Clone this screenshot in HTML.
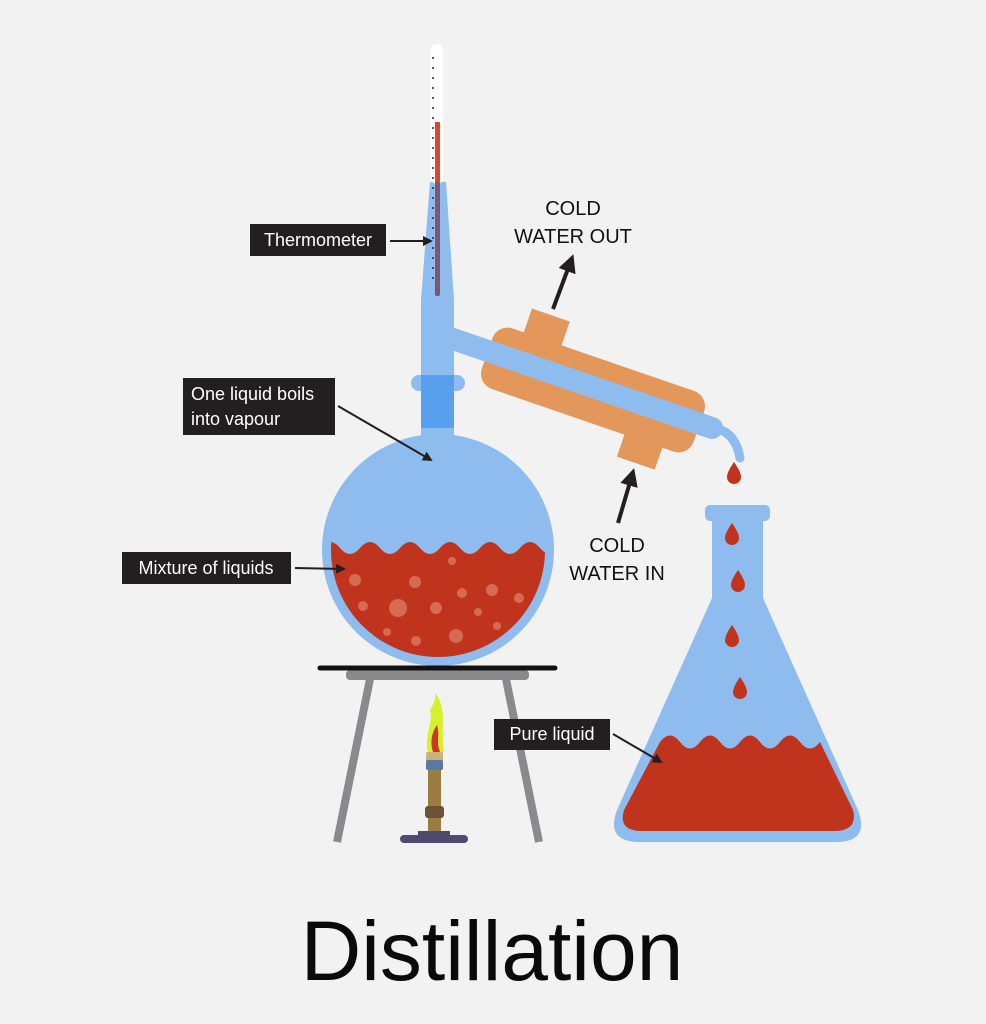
<!DOCTYPE html>
<html><head><meta charset="utf-8"><style>
html,body{margin:0;padding:0;background:#f2f2f2;}
svg{display:block}
text{font-family:"Liberation Sans",sans-serif}
</style></head><body>
<svg width="986" height="1024" viewBox="0 0 986 1024" xmlns="http://www.w3.org/2000/svg">
<defs>
<marker id="ah" markerWidth="10" markerHeight="10" refX="8" refY="5" orient="auto" markerUnits="userSpaceOnUse"><path d="M0,0 L10,5 L0,10 z" fill="#231f20"/></marker>
<marker id="ah2" markerWidth="18" markerHeight="18" refX="14" refY="9" orient="auto" markerUnits="userSpaceOnUse"><path d="M0,0 L18,9 L0,18 z" fill="#231f20"/></marker>
<clipPath id="fl"><circle cx="438" cy="550" r="107"/></clipPath>
</defs>
<rect width="986" height="1024" fill="#f2f2f2"/>

<!-- condenser -->
<g transform="translate(593,390) rotate(19)">
  <rect x="-112" y="-32" width="224" height="64" rx="16" fill="#e4975a"/>
</g>
<g transform="translate(545,332) rotate(19)"><rect x="-20" y="-18" width="40" height="32" fill="#e4975a"/></g>
<g transform="translate(641,448) rotate(19)"><rect x="-20" y="-14" width="40" height="30" fill="#e4975a"/></g>

<!-- side arm -->
<line x1="450" y1="338" x2="712" y2="428" stroke="#8fbcee" stroke-width="22" stroke-linecap="round"/>
<path d="M712,428 Q735,430 740,458" fill="none" stroke="#8fbcee" stroke-width="9" stroke-linecap="round"/>

<!-- round flask -->
<circle cx="438" cy="550" r="116" fill="#8fbcee"/>
<g clip-path="url(#fl)">
<path d="M320,548 q10,-12 20,0 t20,0 t20,0 t20,0 t20,0 t20,0 t20,0 t20,0 t20,0 t20,0 t20,0 t20,0 V700 H320 z" fill="#c0341d"/>
<g fill="#e07d66" opacity="0.75">
<circle cx="355" cy="580" r="6"/><circle cx="398" cy="608" r="9"/><circle cx="415" cy="582" r="6"/><circle cx="436" cy="608" r="6"/><circle cx="462" cy="593" r="5"/><circle cx="492" cy="590" r="6"/><circle cx="478" cy="612" r="4"/><circle cx="456" cy="636" r="7"/><circle cx="497" cy="626" r="4"/><circle cx="519" cy="598" r="5"/><circle cx="363" cy="606" r="5"/><circle cx="387" cy="632" r="4"/><circle cx="416" cy="641" r="5"/><circle cx="452" cy="561" r="4"/>
</g></g>
<!-- neck -->
<rect x="421" y="300" width="33" height="140" fill="#8fbcee"/>
<path d="M430,182 L446,182 L454,300 L421,300 z" fill="#8fbcee"/>
<rect x="411" y="375" width="54" height="16" rx="8" fill="#8fbcee"/>
<rect x="421" y="375" width="33" height="53" fill="#58a0ee"/>

<!-- thermometer -->
<rect x="431" y="44" width="12" height="140" rx="6" fill="#ffffff"/>
<rect x="435" y="122" width="5" height="62" fill="#e2452a"/>
<rect x="435" y="182" width="5" height="114" rx="2" fill="#7e5670"/>
<g stroke="#222" stroke-width="1.5">
<path d="M432,58h2M432,68h2M432,78h2M432,88h2M432,98h2M432,108h2M432,118h2M432,128h2M432,138h2M432,148h2M432,158h2M432,168h2M432,178h2M432,188h2M432,198h2M432,208h2M432,218h2M432,228h2M432,238h2M432,248h2M432,258h2M432,268h2M432,278h2"/>
</g>

<!-- stand -->
<line x1="370" y1="679" x2="337" y2="842" stroke="#8a8a8c" stroke-width="8"/>
<line x1="506" y1="679" x2="539" y2="842" stroke="#8a8a8c" stroke-width="8"/>
<rect x="346" y="670" width="183" height="10" rx="4" fill="#8a8a8c"/>
<line x1="320" y1="668" x2="555" y2="668" stroke="#111" stroke-width="5" stroke-linecap="round"/>

<!-- burner -->
<path d="M435,693 C448,710 440,725 444,752 L428,752 C424,735 434,720 430,710 C433,705 436,700 435,693z" fill="#d8f02a"/>
<path d="M437,725 C430,735 431,745 433,752 L440,752 C436,742 440,735 437,725z" fill="#c83a22"/>
<rect x="426" y="752" width="17" height="10" rx="2" fill="#c9b27e"/>
<rect x="426" y="760" width="17" height="10" rx="2" fill="#5a77a6"/>
<rect x="428" y="770" width="13" height="63" fill="#9b7e3f"/>
<rect x="425" y="806" width="19" height="12" rx="3" fill="#6c5239"/>
<rect x="418" y="831" width="32" height="6" fill="#4f4a6e"/>
<rect x="400" y="835" width="68" height="8" rx="4" fill="#4f4a6e"/>

<!-- erlenmeyer -->
<path d="M712,515 L712,598 L617,810 Q605,842 640,842 L836,842 Q870,842 858,810 L763,598 L763,515 z" fill="#8fbcee"/>
<rect x="705" y="505" width="65" height="16" rx="5" fill="#8fbcee"/>
<path d="M660,742 q10,-13 20,0 t20,0 t20,0 t20,0 t20,0 t20,0 t20,0 t20,0 L853,810 Q858,830 836,831 L640,831 Q618,830 624,810 z" fill="#c0341d"/>
<g fill="#c0341d">
<path d="M734,462 q-7,10 -7,15 a7,7 0 0 0 14,0 q0,-5 -7,-15z"/>
<path d="M732,523 q-7,10 -7,15 a7,7 0 0 0 14,0 q0,-5 -7,-15z"/>
<path d="M738,570 q-7,10 -7,15 a7,7 0 0 0 14,0 q0,-5 -7,-15z"/>
<path d="M732,625 q-7,10 -7,15 a7,7 0 0 0 14,0 q0,-5 -7,-15z"/>
<path d="M740,677 q-7,10 -7,15 a7,7 0 0 0 14,0 q0,-5 -7,-15z"/>
</g>

<!-- labels -->
<rect x="250" y="224" width="136" height="32" fill="#231f20"/>
<text x="318" y="246" font-size="18" fill="#fff" text-anchor="middle">Thermometer</text>
<line x1="390" y1="241" x2="431" y2="241" stroke="#231f20" stroke-width="2" marker-end="url(#ah)"/>

<rect x="183" y="378" width="152" height="57" fill="#231f20"/>
<text x="191" y="400" font-size="18" fill="#fff">One liquid boils</text>
<text x="191" y="425" font-size="18" fill="#fff">into vapour</text>
<line x1="338" y1="406" x2="431" y2="460" stroke="#231f20" stroke-width="2" marker-end="url(#ah)"/>

<rect x="122" y="552" width="169" height="32" fill="#231f20"/>
<text x="206" y="574" font-size="18" fill="#fff" text-anchor="middle">Mixture of liquids</text>
<line x1="295" y1="568" x2="344" y2="569" stroke="#231f20" stroke-width="2" marker-end="url(#ah)"/>

<rect x="494" y="719" width="116" height="31" fill="#231f20"/>
<text x="552" y="740" font-size="18" fill="#fff" text-anchor="middle">Pure liquid</text>
<line x1="613" y1="734" x2="661" y2="762" stroke="#231f20" stroke-width="2" marker-end="url(#ah)"/>

<text x="573" y="215" font-size="20" fill="#111" text-anchor="middle">COLD</text>
<text x="573" y="243" font-size="20" fill="#111" text-anchor="middle">WATER OUT</text>
<line x1="553" y1="309" x2="572" y2="258" stroke="#231f20" stroke-width="4" marker-end="url(#ah2)"/>

<text x="617" y="552" font-size="20" fill="#111" text-anchor="middle">COLD</text>
<text x="617" y="580" font-size="20" fill="#111" text-anchor="middle">WATER IN</text>
<line x1="618" y1="523" x2="633" y2="472" stroke="#231f20" stroke-width="4" marker-end="url(#ah2)"/>

<text x="492" y="980" font-size="84" fill="#0a0a0a" text-anchor="middle">Distillation</text>
</svg>
</body></html>
